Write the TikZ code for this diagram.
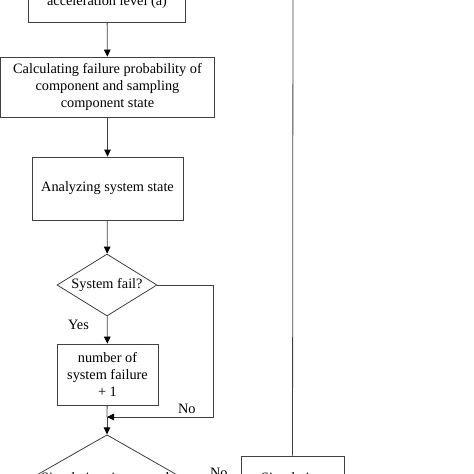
\documentclass[tikz,border=0pt]{standalone}
\usepackage{fontspec}
\setmainfont{Liberation Serif}
\usetikzlibrary{arrows.meta,positioning,shapes.geometric}

\begin{document}
\begin{tikzpicture}[
  x=1pt, y=-1pt,
  proc/.style={draw=black!75, line width=0.8pt, align=center, inner sep=2pt, font=\fontsize{14.3}{17}\selectfont},
  test/.style={diamond, draw=black!75, line width=0.8pt, align=center, inner sep=0pt, font=\fontsize{14.3}{17}\selectfont},
  flow/.style={draw=black!75, line width=0.8pt, -{Triangle[length=7pt,width=6.5pt,color=black]}},
  link/.style={draw=black!75, line width=0.8pt},
  lbl/.style={font=\fontsize{14.3}{17}\selectfont, inner sep=0pt}
]
  \useasboundingbox (0,0) rectangle (474,474);
  \clip (0,0) rectangle (474,474);
  % main column
  \node[proc, minimum width=157pt, minimum height=46pt] (accel) at (107,-1) {\mbox{}\\acceleration level (a)};
  \node[proc, minimum width=214pt, minimum height=60pt] (prob) at (107.5,87) {Calculating failure probability of\\component and sampling\\component state};
  \node[proc, minimum width=151pt, minimum height=63pt] (state) at (107.5,188.5) {Analyzing system state};
  \node[test, aspect=1.6, minimum width=100pt, minimum height=62pt] (fail) at (107,285) {System fail?};
  \node[proc, minimum width=101pt, minimum height=61pt] (count) at (107.5,374.5) {number of\\system failure\\+ 1};
  \node[test, aspect=1.75, minimum width=175pt, minimum height=100pt] (reach) at (107,486) {Simulation times reach\\the set value?};
  \node[proc, minimum width=103pt, minimum height=60pt] (times) at (292.5,486) {Simulation\\number + 1};
  \coordinate (merge) at (107,417);
  \coordinate (back) at (293,-20);
  % connectors
  \draw[flow] (accel) -- (prob);
  \draw[flow] (prob) -- (state);
  \draw[flow] (state) -- (fail);
  \draw[flow] (fail) -- node[lbl, left=18pt, pos=0.33] {Yes} (count);
  \draw[link] (count) -- (merge);
  \draw[flow] (merge) -- (reach);
  \draw[flow] (fail.east) -- ++(56,0) |- node[lbl, above=3pt, pos=0.625] {No} (merge);
  \draw[link] (reach.east) -- node[lbl, above=8pt, pos=0.5] {No} (times.west);
  \draw[link] (times) -- (back);
\end{tikzpicture}
\end{document}
